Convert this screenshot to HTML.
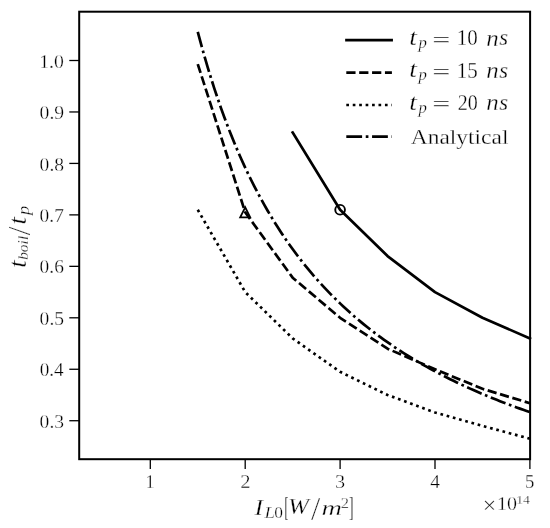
<!DOCTYPE html>
<html><head><meta charset="utf-8"><title>plot</title>
<style>html,body{margin:0;padding:0;background:#fff}svg{display:block}text{font-family:"Liberation Serif",serif;fill:#000;stroke:#fff;stroke-width:0.3px}.i{font-style:italic}</style></head><body>
<svg width="550" height="528" viewBox="0 0 550 528">
<rect width="550" height="528" fill="#fff"/>
<g fill="none" stroke="#000" stroke-width="2.70" stroke-linejoin="round">
<polyline points="292.65,132.54 340.10,209.73 387.55,256.05 435.00,292.07 482.45,317.80 529.90,338.38" stroke-linecap="square"/>
<polyline points="197.75,64.10 245.20,212.31 292.65,277.66 340.10,317.80 387.55,348.68 435.00,369.26 482.45,388.81 529.90,403.22" stroke-dasharray="9.24 3.64"/>
<polyline points="197.75,209.73 245.20,292.07 292.65,338.38 340.10,371.83 387.55,394.99 435.00,412.49 482.45,425.87 529.90,438.73" stroke-dasharray="2.68 3.76"/>
<polyline points="197.75,31.79 201.07,44.17 204.39,56.01 207.71,67.33 211.04,78.17 214.36,88.55 217.68,98.51 221.00,108.07 224.32,117.25 227.64,126.08 230.97,134.57 234.29,142.75 237.61,150.64 240.93,158.23 244.25,165.57 247.57,172.64 250.89,179.48 254.22,186.09 257.54,192.48 260.86,198.67 264.18,204.66 267.50,210.46 270.82,216.08 274.14,221.53 277.47,226.82 280.79,231.95 284.11,236.94 287.43,241.78 290.75,246.48 294.07,251.06 297.39,255.50 300.72,259.83 304.04,264.04 307.36,268.14 310.68,272.14 314.00,276.03 317.32,279.82 320.65,283.52 323.97,287.12 327.29,290.64 330.61,294.08 333.93,297.43 337.25,300.70 340.57,303.89 343.90,307.02 347.22,310.07 350.54,313.05 353.86,315.97 357.18,318.82 360.50,321.61 363.83,324.34 367.15,327.01 370.47,329.63 373.79,332.19 377.11,334.70 380.43,337.15 383.75,339.56 387.08,341.92 390.40,344.23 393.72,346.50 397.04,348.72 400.36,350.90 403.68,353.04 407.00,355.13 410.33,357.19 413.65,359.21 416.97,361.20 420.29,363.14 423.61,365.06 426.93,366.93 430.26,368.78 433.58,370.59 436.90,372.37 440.22,374.12 443.54,375.84 446.86,377.53 450.18,379.19 453.51,380.83 456.83,382.44 460.15,384.02 463.47,385.57 466.79,387.10 470.11,388.61 473.43,390.09 476.76,391.55 480.08,392.98 483.40,394.40 486.72,395.79 490.04,397.16 493.36,398.51 496.69,399.84 500.01,401.15 503.33,402.44 506.65,403.71 509.97,404.96 513.29,406.19 516.61,407.41 519.94,408.61 523.26,409.79 526.58,410.96 529.90,412.11" stroke-dasharray="15.80 3.64 2.68 3.64"/>
</g>
<circle cx="340.10" cy="209.73" r="4.85" fill="none" stroke="#000" stroke-width="1.9"/>
<path d="M245.20 207.31 L240.20 217.31 L250.20 217.31 Z" fill="none" stroke="#000" stroke-width="1.8"/>
<rect x="79.20" y="11.70" width="450.90" height="447.50" fill="none" stroke="#000" stroke-width="2"/>
<g stroke="#000" stroke-width="1.3">
<line x1="150.30" y1="459.20" x2="150.30" y2="468.90"/>
<line x1="245.20" y1="459.20" x2="245.20" y2="468.90"/>
<line x1="340.10" y1="459.20" x2="340.10" y2="468.90"/>
<line x1="435.00" y1="459.20" x2="435.00" y2="468.90"/>
<line x1="529.90" y1="459.20" x2="529.90" y2="468.90"/>
<line x1="69.30" y1="420.72" x2="79.20" y2="420.72"/>
<line x1="69.30" y1="369.26" x2="79.20" y2="369.26"/>
<line x1="69.30" y1="317.80" x2="79.20" y2="317.80"/>
<line x1="69.30" y1="266.34" x2="79.20" y2="266.34"/>
<line x1="69.30" y1="214.88" x2="79.20" y2="214.88"/>
<line x1="69.30" y1="163.42" x2="79.20" y2="163.42"/>
<line x1="69.30" y1="111.96" x2="79.20" y2="111.96"/>
<line x1="69.30" y1="60.50" x2="79.20" y2="60.50"/>
</g>
<g fill="none" stroke="#000" stroke-width="2.70">
<line x1="346.5" y1="40.2" x2="391.6" y2="40.2" stroke-linecap="square"/>
<line x1="346.3" y1="72.6" x2="391.9" y2="72.6" stroke-dasharray="9.24 3.64"/>
<line x1="346.3" y1="105.0" x2="391.9" y2="105.0" stroke-dasharray="2.68 3.76"/>
<line x1="346.3" y1="136.7" x2="391.9" y2="136.7" stroke-dasharray="15.80 3.64 2.68 3.64"/>
</g>
<g>
<text class="i" transform="translate(409.31 44.87) scale(1.163 1)" font-size="23.48">t</text>
<text class="i" transform="translate(418.61 47.96) scale(1.055 1)" font-size="15.91">p</text>
<text transform="translate(432.35 46.55) scale(1.519 1)" font-size="21.20">=</text>
<text transform="translate(456.71 45.38) scale(0.946 1)" font-size="22.22">10</text>
<text class="i" transform="translate(486.23 45.60) scale(1.118 1)" font-size="22.32">n</text>
<text class="i" transform="translate(499.37 45.38) scale(1.035 1)" font-size="22.08">s</text>
<text class="i" transform="translate(409.31 77.27) scale(1.163 1)" font-size="23.48">t</text>
<text class="i" transform="translate(418.61 80.36) scale(1.055 1)" font-size="15.91">p</text>
<text transform="translate(432.35 78.95) scale(1.519 1)" font-size="21.20">=</text>
<text transform="translate(456.71 77.78) scale(0.939 1)" font-size="22.39">15</text>
<text class="i" transform="translate(486.23 78.00) scale(1.118 1)" font-size="22.32">n</text>
<text class="i" transform="translate(499.37 77.78) scale(1.035 1)" font-size="22.08">s</text>
<text class="i" transform="translate(409.31 109.67) scale(1.163 1)" font-size="23.48">t</text>
<text class="i" transform="translate(418.61 112.76) scale(1.055 1)" font-size="15.91">p</text>
<text transform="translate(432.35 111.35) scale(1.519 1)" font-size="21.20">=</text>
<text transform="translate(457.70 110.18) scale(0.900 1)" font-size="22.22">20</text>
<text class="i" transform="translate(486.23 110.40) scale(1.118 1)" font-size="22.32">n</text>
<text class="i" transform="translate(499.37 110.18) scale(1.035 1)" font-size="22.08">s</text>
<text transform="translate(410.78 143.97) scale(1.067 1)" font-size="21.98">Analytical</text>
<text transform="translate(39.61 427.82) scale(0.993 1)" font-size="19.71">0.3</text>
<text transform="translate(39.63 376.36) scale(0.977 1)" font-size="19.71">0.4</text>
<text transform="translate(39.61 324.90) scale(0.993 1)" font-size="19.71">0.5</text>
<text transform="translate(39.62 273.44) scale(0.985 1)" font-size="19.71">0.6</text>
<text transform="translate(39.62 221.98) scale(0.985 1)" font-size="19.71">0.7</text>
<text transform="translate(39.61 170.52) scale(0.993 1)" font-size="19.71">0.8</text>
<text transform="translate(39.61 119.06) scale(0.998 1)" font-size="19.71">0.9</text>
<text transform="translate(39.22 67.51) scale(1.017 1)" font-size="19.41">1.0</text>
<text transform="translate(145.57 488.30) scale(0.922 1)" font-size="19.55">1</text>
<text transform="translate(240.23 488.30) scale(1.049 1)" font-size="19.55">2</text>
<text transform="translate(334.94 488.11) scale(1.051 1)" font-size="19.25">3</text>
<text transform="translate(430.16 488.30) scale(0.991 1)" font-size="19.55">4</text>
<text transform="translate(525.02 488.11) scale(0.968 1)" font-size="19.40">5</text>
<text transform="translate(482.71 513.39) scale(0.998 1)" font-size="23.90">×</text>
<text transform="translate(497.00 510.40) scale(1.015 1)" font-size="19.70">10</text>
<text transform="translate(516.14 503.60) scale(1.025 1)" font-size="13.33">14</text>
<text class="i" transform="translate(254.53 514.50) scale(1.111 1)" font-size="23.21">I</text>
<text class="i" transform="translate(264.58 518.10) scale(1.165 1)" font-size="16.18">L</text>
<text transform="translate(274.29 518.14) scale(1.100 1)" font-size="15.85">0</text>
<text transform="translate(284.48 516.32) scale(0.430 1)" font-size="27.27">[</text>
<text class="i" transform="translate(288.07 514.36) scale(1.099 1)" font-size="22.84">W</text>
<text class="i" transform="translate(312.31 519.66) scale(0.662 1)" font-size="33.58">/</text>
<text class="i" transform="translate(321.51 514.70) scale(1.386 1)" font-size="20.42">m</text>
<text transform="translate(340.64 508.00) scale(1.200 1)" font-size="13.79">2</text>
<text transform="translate(349.36 516.32) scale(0.456 1)" font-size="27.27">]</text>
</g>
<g transform="translate(0 266.8) rotate(-90)">
<text class="i" transform="translate(-1.06 25.85) scale(1.082 1)" font-size="24.52">t</text>
<text class="i" transform="translate(6.96 28.05) scale(1.037 1)" font-size="14.89">boil</text>
<text class="i" transform="translate(32.66 29.97) scale(0.653 1)" font-size="32.54">/</text>
<text class="i" transform="translate(42.24 25.85) scale(1.082 1)" font-size="24.52">t</text>
<text class="i" transform="translate(51.92 29.36) scale(1.174 1)" font-size="15.91">p</text>
</g>
</svg></body></html>
